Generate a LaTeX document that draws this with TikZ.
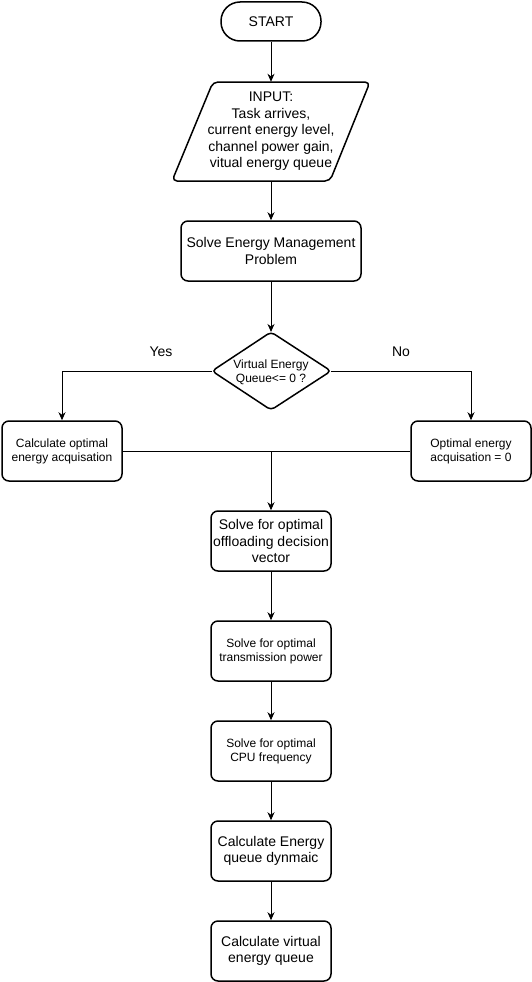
\documentclass[tikz,border=0pt]{standalone}
\usepackage{fontspec}
\setmainfont{Liberation Sans}
\usetikzlibrary{arrows.meta}
\begin{document}
\begin{tikzpicture}[x=1pt,y=-1pt,
  big/.style={font=\fontsize{14}{16.5}\selectfont},
  small/.style={font=\fontsize{12}{14}\selectfont},
  box/.style={draw,line width=1.5pt,rounded corners=7pt,minimum width=120pt,minimum height=60pt,align=center,inner sep=1pt},
  outline/.style={draw,line width=1.5pt},
  conn/.style={line width=1pt},
  arr/.style={conn,-{Stealth[length=8pt,width=7pt,inset=2.5pt]}}
]
\useasboundingbox (0,0) rectangle (532,982);
% START
\node[draw,line width=1.5pt,rounded corners=19pt,minimum width=100pt,minimum height=39pt,big,inner sep=0pt] (start) at (271,21.5) {START};
% INPUT parallelogram
\draw[outline,rounded corners=5pt] (213,82) -- (370,82) -- (330,181) -- (172,181) -- cycle;
\node[big,align=center,minimum width=198pt,minimum height=99pt,inner sep=0pt] (input) at (271,131.5)
  {INPUT:\\Task arrives,\\current energy level,\\channel power gain,\\vitual energy queue};
% Energy management
\node[box,big,minimum width=180pt] (emp) at (271,251) {Solve Energy Management\\Problem};
% decision diamond
\coordinate (decT) at (271,332);
\coordinate (decB) at (271,410);
\coordinate (decL) at (212,371);
\coordinate (decR) at (331,371);
\draw[outline,rounded corners=4pt] (decT) -- (decR) -- (decB) -- (decL) -- cycle;
\node[small,align=center,inner sep=0pt] (dec) at (271,372) {Virtual Energy\\Queue<= 0 ?};
\node[big] (yes) at (161,352) {Yes};
\node[big] (no) at (401,352) {No};
% branches
\node[box,small] (calc) at (62,451) {Calculate optimal\\energy acquisation};
\node[box,small] (zero) at (471,451) {Optimal energy\\acquisation = 0};
% main chain
\node[box,big] (off) at (271,541) {Solve for optimal\\offloading decision\\vector};
\node[box,small] (tx) at (271,651) {Solve for optimal\\transmission power};
\node[box,small] (cpu) at (271,751) {Solve for optimal\\CPU frequency};
\node[box,big] (eq) at (271,851) {Calculate Energy\\queue dynmaic};
\node[box,big] (vq) at (271,951) {Calculate virtual\\energy queue};
\coordinate (merge) at (271,451);
% connectors
\draw[arr] (start.south) -- (input.north);
\draw[arr] (input.south) -- (emp.north);
\draw[arr] (emp.south) -- (decT);
\draw[arr] (decL) -| (calc.north);
\draw[arr] (decR) -| (zero.north);
\draw[conn] (calc.east) -- (zero.west);
\draw[arr] (merge) -- (off.north);
\draw[arr] (off.south) -- (tx.north);
\draw[arr] (tx.south) -- (cpu.north);
\draw[arr] (cpu.south) -- (eq.north);
\draw[arr] (eq.south) -- (vq.north);
\end{tikzpicture}
\end{document}
